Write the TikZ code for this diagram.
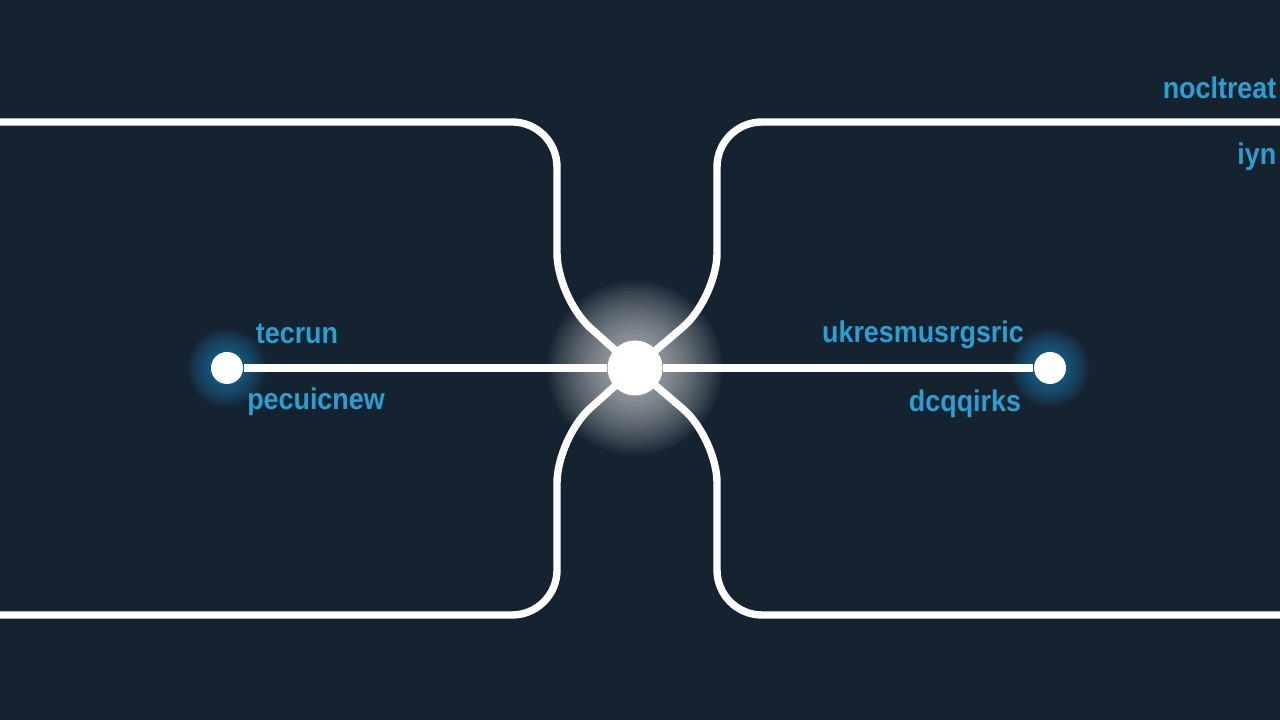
\documentclass[tikz,border=0pt]{standalone}
\usepackage{fontspec}
\setmainfont{Liberation Sans}
\newfontfamily\tagfont[FakeStretch=0.9]{Liberation Sans}
\definecolor{bgnavy}{HTML}{152330}
\definecolor{labelblue}{HTML}{2B9FD2}
\definecolor{glowblue}{HTML}{1E8FD0}
\tikzset{
	wire/.style={white, line width=2.1pt, rounded corners=4.5mm},
	tag/.style={text=labelblue, font=\tagfont\bfseries\fontsize{8.5}{10}\selectfont, inner sep=0pt},
	dot/.style={circle, fill=white, minimum size=3.2mm, inner sep=0pt}
}
\begin{document}
\begin{tikzpicture}[>=stealth]
		% Background
		\fill[bgnavy] (0,0) rectangle (12.8,7.2);
		\useasboundingbox (0,0) rectangle (12.8,7.2);
		
		% Glow behind the hub
		\foreach \i in {1,...,24}
			\fill[white, opacity=0.04] (6.35,3.52) circle ({0.1+0.032*\i});
		\foreach \x in {2.27,10.50}
			\foreach \i in {1,...,8}
				\fill[glowblue, opacity=0.08] (\x,3.52) circle ({0.15+0.03*\i});
		
		% Nodes
		\node[circle, fill=white, minimum size=5.5mm, inner sep=0pt] (hub) at (6.35,3.52) {};
		\node[dot] (left) at (2.27,3.52) {};
		\node[dot] (right) at (10.50,3.52) {};
		
		% Free ends at the border
		\coordinate (tl) at (0,5.98);
		\coordinate (bl) at (0,1.05);
		\coordinate (tr) at (12.8,5.98);
		\coordinate (br) at (12.8,1.05);
		
		% Edges
		\draw[wire] (tl) -- (5.57,5.98) -- (5.57,4.22) [rounded corners=2.5mm] -- (hub.center);
		\draw[wire] (bl) -- (5.57,1.05) -- (5.57,2.82) [rounded corners=2.5mm] -- (hub.center);
		\draw[wire] (tr) -- (7.17,5.98) -- (7.17,4.22) [rounded corners=2.5mm] -- (hub.center);
		\draw[wire] (br) -- (7.17,1.05) -- (7.17,2.82) [rounded corners=2.5mm] -- (hub.center);
		\draw[wire] (left) -- (hub);
		\draw[wire] (hub) -- (right);
		
		% Labels
		\node[tag] (l1) at (2.97,3.86) {tecrun};
		\node[tag] (l2) at (3.16,3.18) {pecuicnew};
		\node[tag] (r1) at (9.23,3.85) {ukresmusrgsric};
		\node[tag] (r2) at (9.65,3.16) {dcqqirks};
		\node[tag, anchor=east] (t1) at (12.77,6.32) {nocltreat};
		\node[tag, anchor=east] (t2) at (12.77,5.63) {iyn};
		
	\end{tikzpicture}
\end{document}
